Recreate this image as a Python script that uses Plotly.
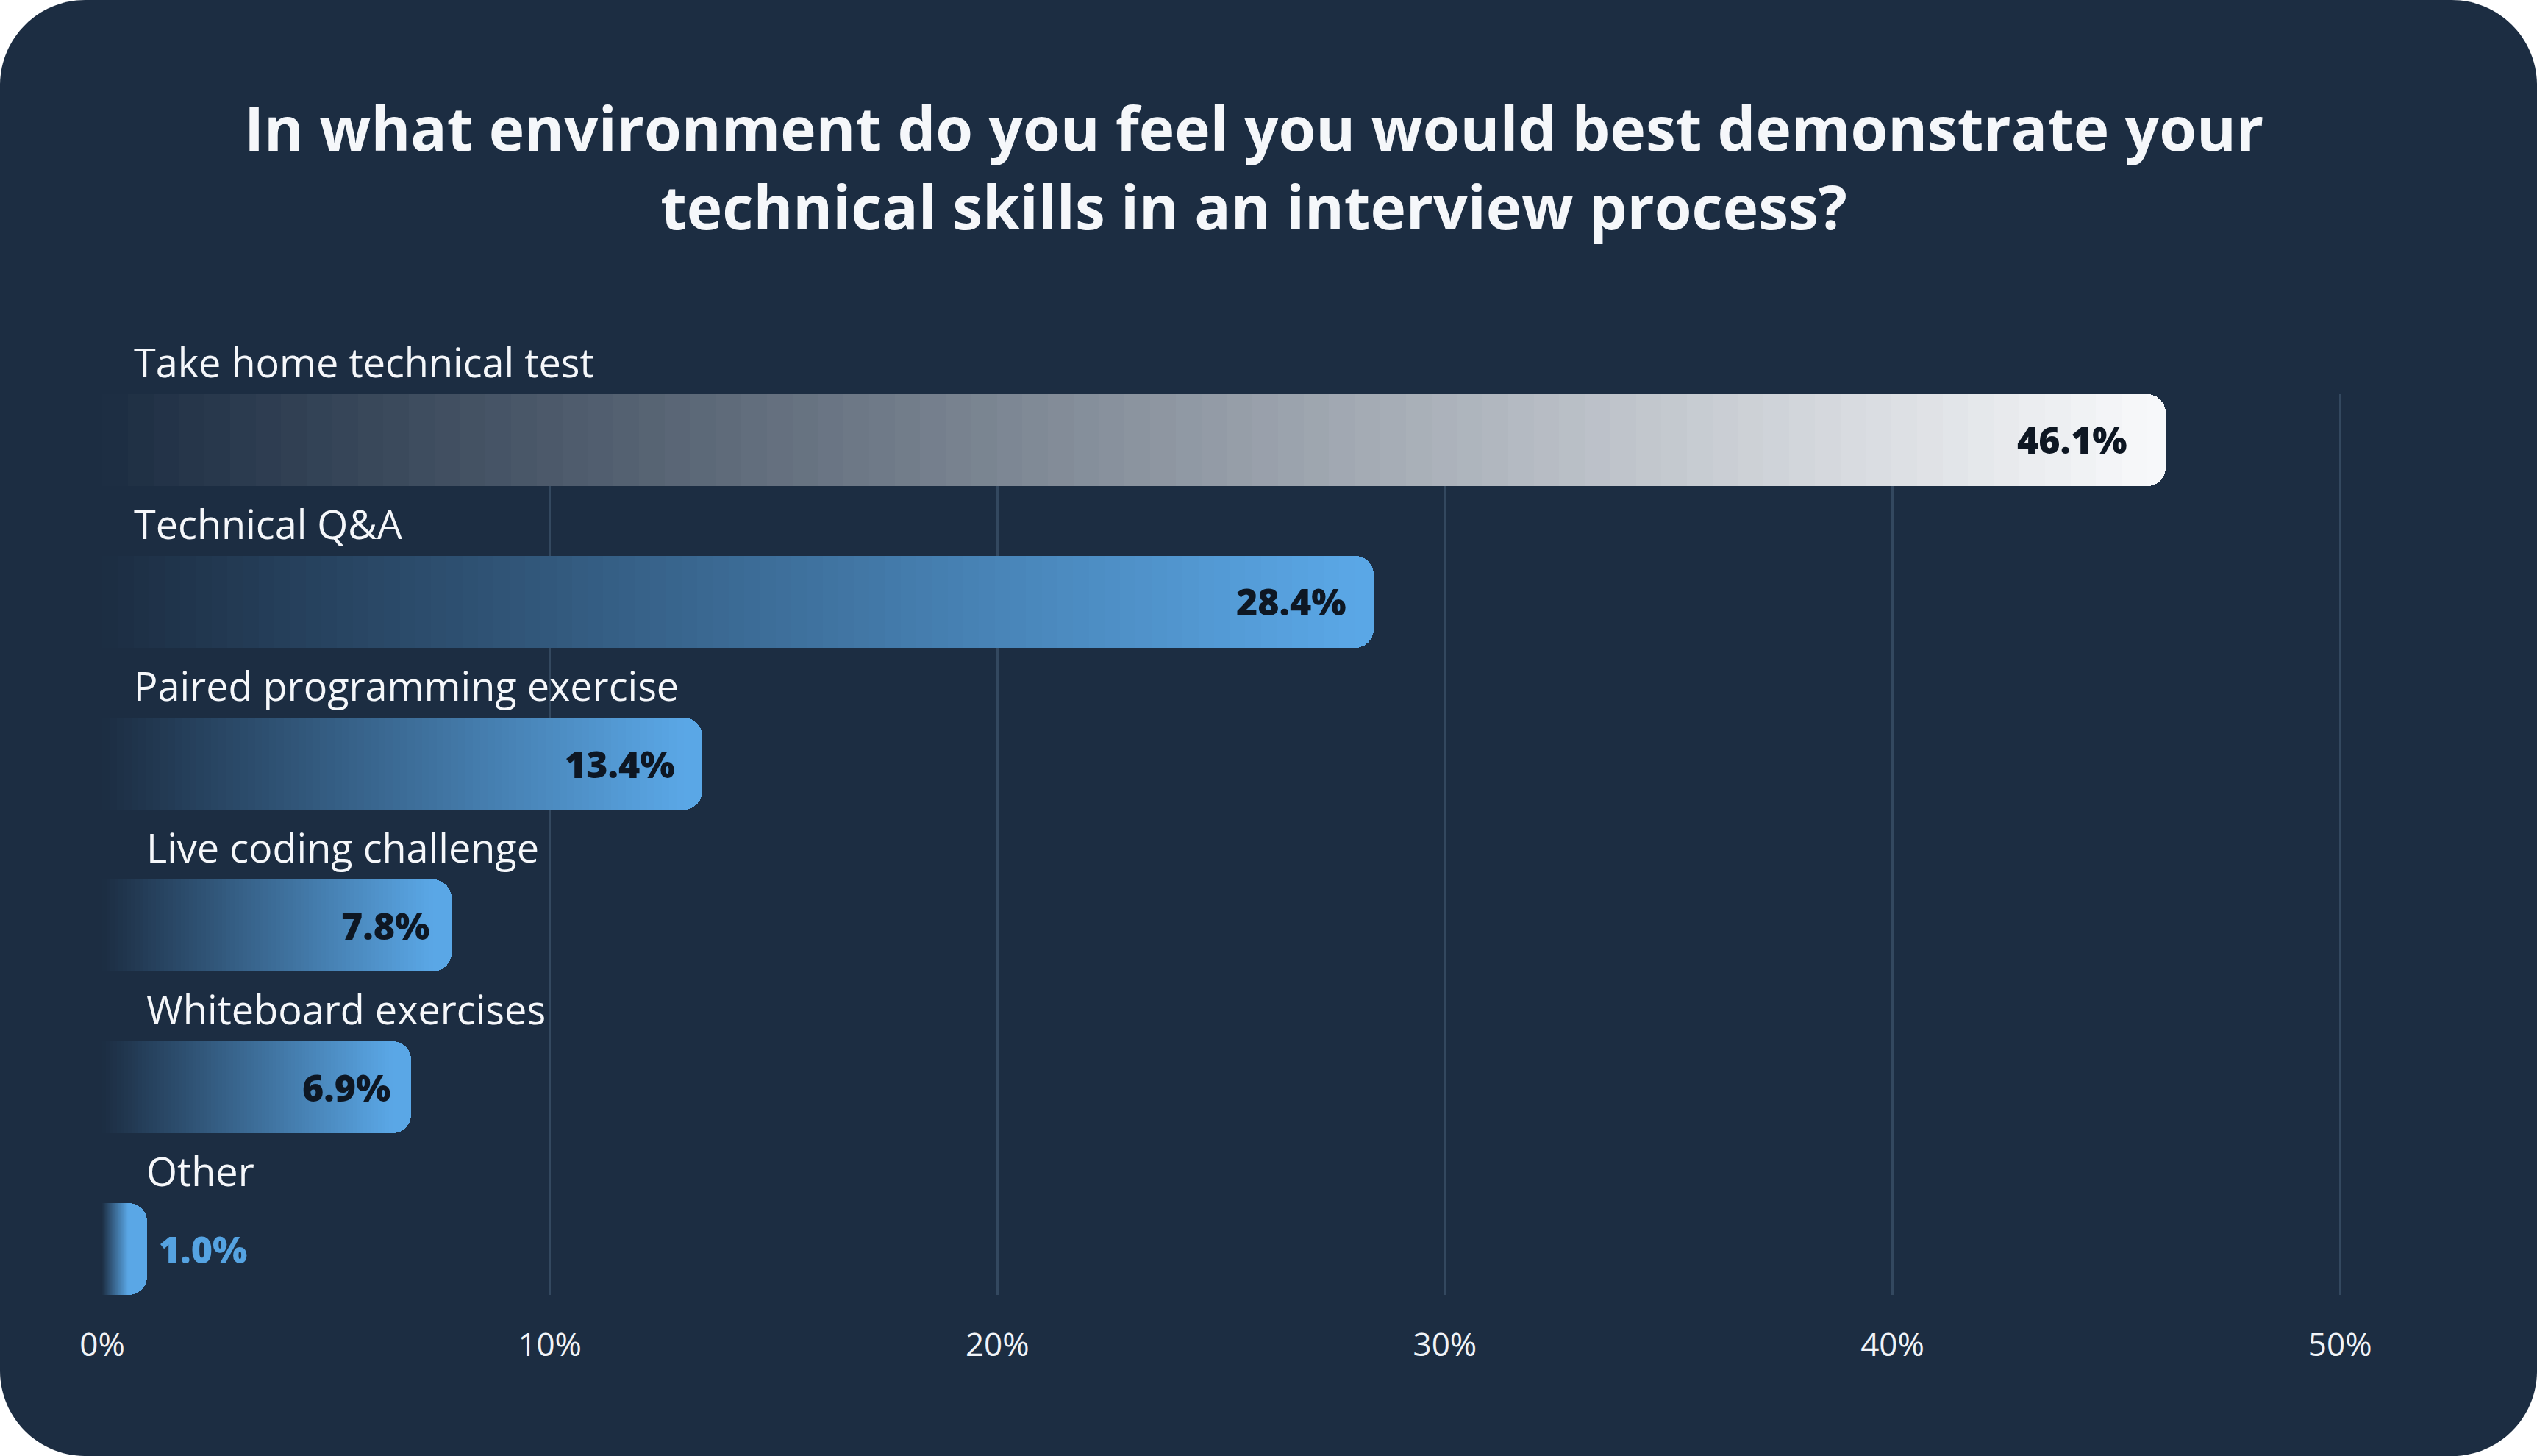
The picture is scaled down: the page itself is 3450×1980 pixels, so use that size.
import plotly.graph_objects as go

# ---------------- data ----------------
CATEGORIES = [
    "Take home technical test",
    "Technical Q&A",
    "Paired programming exercise",
    "Live coding challenge",
    "Whiteboard exercises",
    "Other",
]
VALUES = [46.1, 28.4, 13.4, 7.8, 6.9, 1.0]
TICK_VALS = [0, 10, 20, 30, 40, 50]
TICK_TEXT = ["0%", "10%", "20%", "30%", "40%", "50%"]
TITLE = ("In what environment do you feel you would best demonstrate your<br>"
         "technical skills in an interview process?")

# ---------------- style ----------------
W, H = 3450, 1980
ML, MR, MT, MB = 139, 266, 536, 219
BG = (28, 45, 66)
WHITE_END = (247, 248, 250)
BLUE_END = (90, 167, 230)
BAR_W = 0.568
CORNER = 25
N_SEG = 80
FONT = "'Open Sans', Lato, sans-serif"
LABEL_SHIFT = [41, 41, 41, 58, 58, 58]
VALUE_PAD = [50, 35, 35, 28, 26, 0]
XMAX = 50.03

plot_w = W - ML - MR
plot_h = H - MT - MB
px_per_unit = plot_w / XMAX
r_units = CORNER / px_per_unit


def mix(c0, c1, t):
    return "rgb(%d,%d,%d)" % tuple(round(a + (b - a) * t) for a, b in zip(c0, c1))


fig = go.Figure()

end_colors = [WHITE_END] + [BLUE_END] * (len(VALUES) - 1)
ys = list(range(len(CATEGORIES)))

# base rounded bars (solid end colour)
fig.add_trace(go.Bar(
    x=VALUES, y=ys, orientation="h", width=BAR_W,
    marker=dict(color=[mix(c, c, 0) for c in end_colors], cornerradius=CORNER,
                line=dict(width=0)),
    hoverinfo="skip", showlegend=False,
))

# gradient overlay segments per bar
for i, (v, c_end) in enumerate(zip(VALUES, end_colors)):
    span = max(v - r_units, 0)
    step = span / N_SEG
    bases = [k * step for k in range(N_SEG)]
    widths = [min(step * 1.8, span - b) for b in bases]
    cols = [mix(BG, c_end, (k + 0.5) / N_SEG) for k in range(N_SEG)]
    fig.add_trace(go.Bar(
        x=widths, base=bases, y=[i] * N_SEG, orientation="h", width=BAR_W,
        marker=dict(color=cols, line=dict(width=0)),
        hoverinfo="skip", showlegend=False,
    ))

annotations = []
for i, (name, v) in enumerate(zip(CATEGORIES, VALUES)):
    annotations.append(dict(
        x=0, y=i - BAR_W / 2, xref="x", yref="y", text=name, showarrow=False,
        xanchor="left", yanchor="middle", xshift=LABEL_SHIFT[i], yshift=44,
        font=dict(family=FONT, size=54, color="#f5f7fa"),
    ))
    if v >= 3:
        annotations.append(dict(
            x=v, y=i, xref="x", yref="y", text="%.1f%%" % v, showarrow=False,
            xanchor="right", yanchor="middle", xshift=-VALUE_PAD[i],
            font=dict(family=FONT, size=50, color="#0e1723", weight=800),
        ))
    else:
        annotations.append(dict(
            x=v, y=i, xref="x", yref="y", text="%.1f%%" % v, showarrow=False,
            xanchor="left", yanchor="middle", xshift=14,
            font=dict(family=FONT, size=50, color="#55a3e2", weight=800),
        ))


# rounded background card (in paper coords)
def P(x, y):
    return "%.5f,%.5f" % ((x - ML) / plot_w, (H - MB - y) / plot_h)


R = 116
k = 0.5523 * R
path = (
    "M " + P(R, 0) + " L " + P(W - R, 0) +
    " C " + P(W - R + k, 0) + " " + P(W, R - k) + " " + P(W, R) +
    " L " + P(W, H - R) +
    " C " + P(W, H - R + k) + " " + P(W - R + k, H) + " " + P(W - R, H) +
    " L " + P(R, H) +
    " C " + P(R - k, H) + " " + P(0, H - R + k) + " " + P(0, H - R) +
    " L " + P(0, R) +
    " C " + P(0, R - k) + " " + P(R - k, 0) + " " + P(R, 0) + " Z"
)

fig.update_layout(
    width=W, height=H,
    margin=dict(l=ML, r=MR, t=MT, b=MB, pad=0),
    paper_bgcolor="white",
    plot_bgcolor="rgba(0,0,0,0)",
    barmode="overlay",
    bargap=0,
    showlegend=False,
    shapes=[dict(type="path", path=path, xref="paper", yref="paper",
                 fillcolor="rgb(28,45,66)", line=dict(width=0), layer="below")],
    annotations=annotations,
    title=dict(text="<b>" + TITLE + "</b>", x=1705 / W, xref="container", xanchor="center",
               y=1 - 205 / H, yref="container", yanchor="top",
               font=dict(family=FONT, size=82, color="#f5f7fa")),
    xaxis=dict(range=[0, XMAX], tickvals=TICK_VALS, ticktext=TICK_TEXT,
               showgrid=True, gridcolor="#33485f", gridwidth=3, zeroline=False,
               showline=False, ticks="", ticklabelstandoff=38,
               tickfont=dict(family=FONT, size=44, color="#f0f3f7"), fixedrange=True),
    yaxis=dict(range=[len(CATEGORIES) - 1 + BAR_W / 2, -BAR_W / 2], showgrid=False,
               zeroline=False, showticklabels=False, ticks="", fixedrange=True),
)

fig.write_html("out.html", config={"displayModeBar": False})
